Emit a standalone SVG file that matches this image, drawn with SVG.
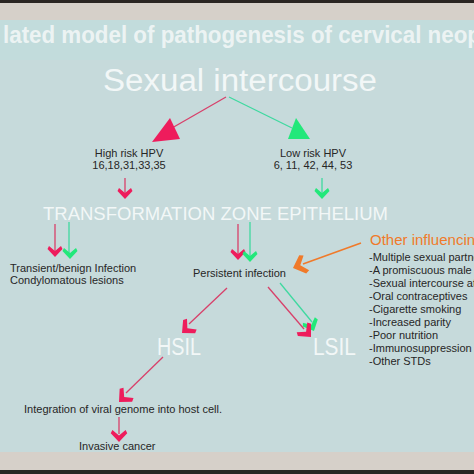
<svg xmlns="http://www.w3.org/2000/svg" width="474" height="474" viewBox="0 0 474 474">
<style>
.bg{fill:#c6dadb}
.t{font-family:"Liberation Sans",Arial,sans-serif;fill:#262626;font-size:11px}
.w{font-family:"Liberation Sans",Arial,sans-serif;fill:#f2f7f7}
.or{font-family:"Liberation Sans",Arial,sans-serif;fill:#f07a2a;font-size:15px}
.rl{stroke:#d8406a;stroke-width:1.3;fill:none}
.gl{stroke:#3fd9a0;stroke-width:1.3;fill:none}
.ol{stroke:#f07a2a;stroke-width:1.6;fill:none}
.r{fill:#ee1c5c}
.g{fill:#22e87a}
.o{fill:#f07a2a}
</style>
<defs>
<path id="dart" d="M0,0 L-7.5,-8 L-6,-11 L0,-6 L6,-11 L7.5,-8 Z"/>
</defs>
<rect x="0" y="0" width="474" height="474" class="bg"/>
<rect x="0" y="0" width="474" height="3" fill="#2a2522"/>
<rect x="0" y="3" width="474" height="17" fill="#d6d0c9"/>
<rect x="0" y="20" width="474" height="40" fill="#c2dcdc"/>
<rect x="0" y="452" width="474" height="18" fill="#d6d0c9"/>
<rect x="0" y="470" width="474" height="4" fill="#2a2522"/>

<g id="title"><text class="w" x="3" y="43" font-size="23" font-weight="bold" textLength="478" lengthAdjust="spacingAndGlyphs" fill-opacity="0.9">lated model of pathogenesis of cervical neop</text></g>

<g id="connectors">
<line class="rl" x1="226" y1="97" x2="172" y2="128"/>
<polygon class="r" points="152,142 170,118 180,139"/>
<line class="gl" x1="229" y1="97" x2="292" y2="128"/>
<polygon class="g" points="310,139 296,118 288,139"/>

<line class="rl" x1="125" y1="178" x2="125" y2="193"/>
<use href="#dart" class="r" transform="translate(125,199)"/>
<line class="gl" x1="322" y1="178" x2="322" y2="193"/>
<use href="#dart" class="g" transform="translate(322,199)"/>

<line class="rl" x1="55" y1="224" x2="55" y2="252"/>
<use href="#dart" class="r" transform="translate(55,257)"/>
<line class="gl" x1="69" y1="222" x2="69" y2="254"/>
<use href="#dart" class="g" transform="translate(70,259)"/>

<line class="rl" x1="238" y1="224" x2="238" y2="255"/>
<use href="#dart" class="r" transform="translate(238,260)"/>
<line class="gl" x1="250" y1="222" x2="250" y2="256"/>
<use href="#dart" class="g" transform="translate(250,262)"/>

<line class="ol" x1="361" y1="243" x2="303" y2="264"/>
<use href="#dart" class="o" transform="translate(293,268) rotate(69) scale(1.3)"/>

<line class="rl" x1="227" y1="288" x2="189" y2="324"/>
<use href="#dart" class="r" transform="translate(182,333) rotate(48) scale(1.2)"/>

<line class="gl" x1="280" y1="283" x2="312" y2="322"/>
<use href="#dart" class="g" transform="translate(314,331) rotate(-25) scale(1.1)"/>
<line class="rl" x1="268" y1="287" x2="304" y2="329"/>
<use href="#dart" class="r" transform="translate(311,337) rotate(-43) scale(1.2)"/>

<line class="rl" x1="163" y1="357" x2="126" y2="393"/>
<use href="#dart" class="r" transform="translate(119,402) rotate(46) scale(1.2)"/>

<line class="rl" x1="119" y1="417" x2="119" y2="434"/>
<use href="#dart" class="r" transform="translate(119,442) scale(1.1)"/>
</g>

<g id="sexual"><text class="w" x="240" y="91" font-size="31" text-anchor="middle" textLength="274" lengthAdjust="spacingAndGlyphs">Sexual intercourse</text></g>

<g id="highrisk"><text class="t" x="129" y="157" text-anchor="middle">High risk HPV</text><text class="t" x="129" y="169" text-anchor="middle">16,18,31,33,35</text></g>

<g id="lowrisk"><text class="t" x="313" y="157" text-anchor="middle">Low risk HPV</text><text class="t" x="313" y="169" text-anchor="middle">6, 11, 42, 44, 53</text></g>

<g id="tze"><text class="w" x="43" y="220" font-size="18" textLength="345" lengthAdjust="spacingAndGlyphs">TRANSFORMATION ZONE EPITHELIUM</text></g>

<g id="transient"><text class="t" x="10" y="272">Transient/benign Infection</text><text class="t" x="10" y="284">Condylomatous lesions</text></g>

<g id="persistent"><text class="t" x="193" y="277">Persistent infection</text></g>

<g id="factors">
<text class="or" x="370" y="245">Other influencing</text>
<text class="t" x="369" y="261">-Multiple sexual partners</text>
<text class="t" x="369" y="274">-A promiscuous male</text>
<text class="t" x="369" y="287">-Sexual intercourse at</text>
<text class="t" x="369" y="300">-Oral contraceptives</text>
<text class="t" x="369" y="313">-Cigarette smoking</text>
<text class="t" x="369" y="326">-Increased parity</text>
<text class="t" x="369" y="339">-Poor nutrition</text>
<text class="t" x="369" y="352">-Immunosuppression</text>
<text class="t" x="369" y="365">-Other STDs</text>
</g>

<g id="hsil"><text class="w" x="157" y="355" font-size="23" textLength="44" lengthAdjust="spacingAndGlyphs">HSIL</text></g>
<g id="lsil"><text class="w" x="313" y="355" font-size="23" textLength="43" lengthAdjust="spacingAndGlyphs">LSIL</text></g>

<g id="integration"><text class="t" x="24" y="413" textLength="198" lengthAdjust="spacingAndGlyphs">Integration of viral genome into host cell.</text></g>
<g id="invasive"><text class="t" x="79" y="450">Invasive cancer</text></g>
</svg>
